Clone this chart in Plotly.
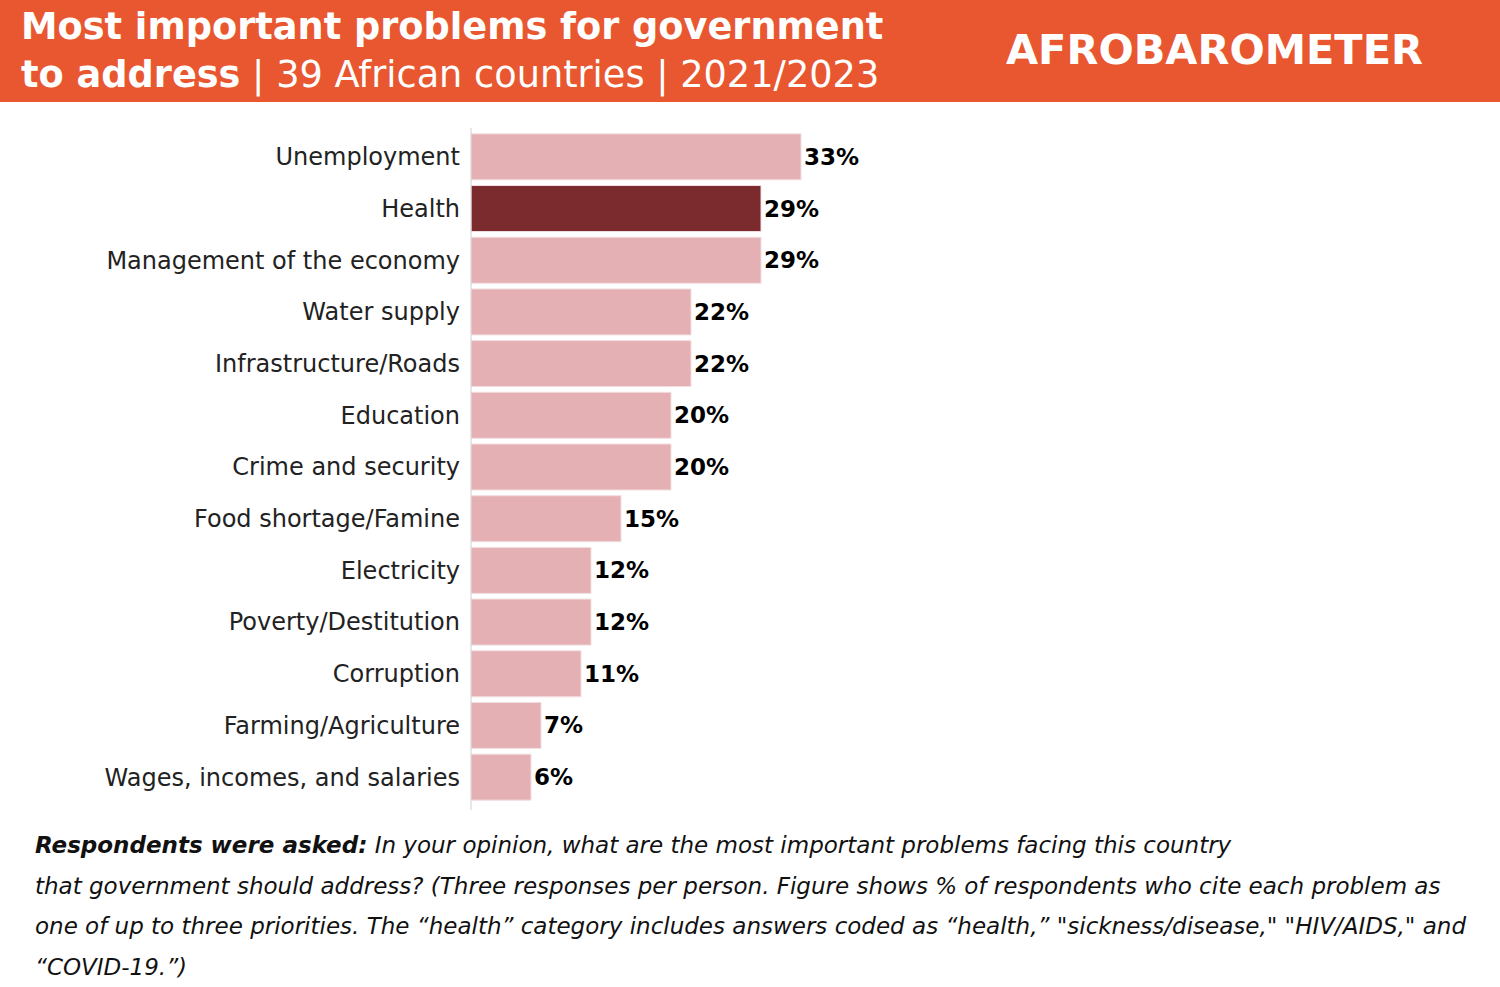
import plotly.graph_objects as go

categories = ["Unemployment", "Health", "Management of the economy", "Water supply",
              "Infrastructure/Roads", "Education", "Crime and security",
              "Food shortage/Famine", "Electricity", "Poverty/Destitution",
              "Corruption", "Farming/Agriculture", "Wages, incomes, and salaries"]
values = [33, 29, 29, 22, 22, 20, 20, 15, 12, 12, 11, 7, 6]
highlight = "Health"

W, H = 1500, 987
L, R = 471, 1471
T, B = 131, 803
FONT = "DejaVu Sans"

def px(x):
    return (x - L) / (R - L)

def py(y):
    return (B - y) / (B - T)

colors = ["#7B2A2E" if c == highlight else "#E4B0B4" for c in categories]

fig = go.Figure(go.Bar(
    x=values, y=categories, orientation="h",
    marker=dict(color=colors, line=dict(color="#F2DEE0", width=1)),
    text=[f"{v}%" for v in values], textposition="outside",
    textfont=dict(family=FONT, size=23, color="#000000", weight="bold"),
    cliponaxis=False, width=0.89, hoverinfo="skip",
))

fig.update_layout(
    width=W, height=H,
    margin=dict(l=L, r=W - R, t=T, b=H - B, pad=0),
    paper_bgcolor="white", plot_bgcolor="white",
    showlegend=False,
    xaxis=dict(range=[0, 100], visible=False, fixedrange=True),
    yaxis=dict(autorange="reversed", showgrid=False, zeroline=False,
               showline=False, ticks="", ticklabelstandoff=10,
               tickfont=dict(family=FONT, size=24, color="#222222")),
    font=dict(family=FONT),
)

shapes = [
    dict(type="rect", xref="paper", yref="paper", x0=px(0), x1=px(W),
         y0=py(102), y1=py(0), fillcolor="#E8572F", line=dict(width=0), layer="below"),
    dict(type="line", xref="paper", yref="paper", x0=px(471), x1=px(471),
         y0=py(128), y1=py(810), line=dict(color="#D0D0D0", width=1)),
]
fig.update_layout(shapes=shapes)

ann = []
ann.append(dict(x=px(19), y=py(26), xref="paper", yref="paper", xanchor="left", yanchor="middle",
                text="<b>Most important problems for government</b>", showarrow=False,
                font=dict(family=FONT, size=36.7, color="white")))
ann.append(dict(x=px(19), y=py(75), xref="paper", yref="paper", xanchor="left", yanchor="middle",
                text="<b>to address</b> | 39 African countries | 2021/2023", showarrow=False,
                font=dict(family=FONT, size=36.7, color="white")))
ann.append(dict(x=px(1425), y=py(49), xref="paper", yref="paper", xanchor="right", yanchor="middle",
                text="<b>AFROBAROMETER</b>", showarrow=False,
                font=dict(family=FONT, size=41.5, color="white")))

foot = [
    "<b>Respondents were asked:</b> In your opinion, what are the most important problems facing this country",
    "that government should address? (Three responses per person. Figure shows % of respondents who cite each problem as",
    "one of up to three priorities. The \u201chealth\u201d category includes answers coded as \u201chealth,\u201d \"sickness/disease,\" \"HIV/AIDS,\" and",
    "\u201cCOVID-19.\u201d)",
]
for i, line in enumerate(foot):
    ann.append(dict(x=px(33), y=py(845 + i * 40.7), xref="paper", yref="paper",
                    xanchor="left", yanchor="middle", text=f"<i>{line}</i>", showarrow=False,
                    font=dict(family=FONT, size=23.0, color="#111111")))
fig.update_layout(annotations=ann)

fig.write_html("out.html")
